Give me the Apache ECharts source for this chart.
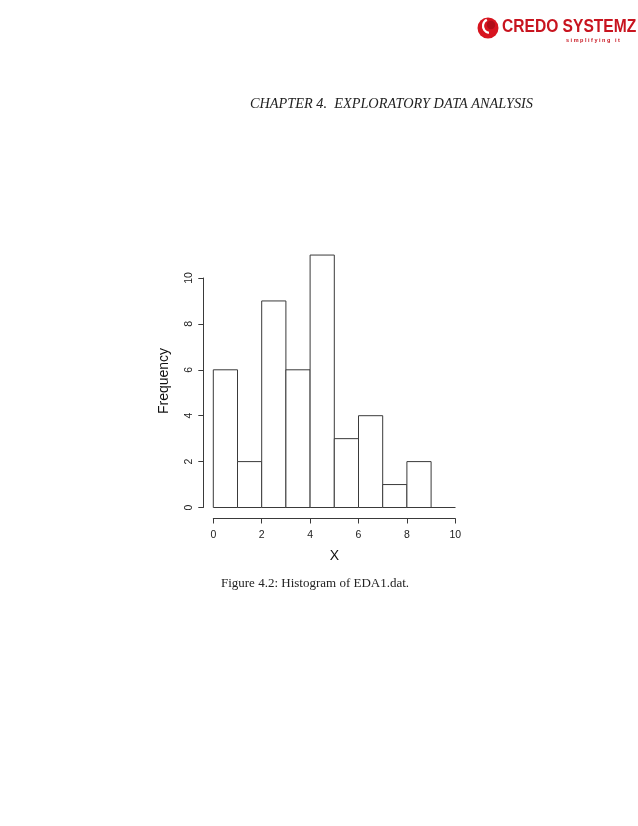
<!DOCTYPE html>
<html>
<head>
<meta charset="utf-8">
<script src="https://cdn.jsdelivr.net/npm/echarts@6/dist/echarts.min.js"></script>
<style>
html,body{margin:0;padding:0;background:#fff;}
#chart{width:638px;height:826px;}
</style>
</head>
<body>
<div id="chart"></div>
<script>
// Histogram data (bin edges and counts)
const binStarts = [0, 1, 2, 3, 4, 5, 6, 7, 8, 9];
const binEnds   = [1, 2, 3, 4, 5, 6, 7, 8, 9, 10];
const counts    = [6, 2, 9, 6, 11, 3, 4, 1, 2, 0];
const xLabelText = 'X';
const yLabelText = 'Frequency';
const headerText = 'CHAPTER 4.  EXPLORATORY DATA ANALYSIS';
const captionText = 'Figure 4.2: Histogram of EDA1.dat.';

const data = binStarts.map((s, i) => [s, binEnds[i], counts[i]]);

const chart = echarts.init(document.getElementById('chart'), null, {renderer: 'canvas'});
const lineColor = '#3a3a3a';
const sans = '"Liberation Sans", Arial, Helvetica, sans-serif';
const serif = '"Liberation Serif", "Times New Roman", serif';

chart.setOption({
  backgroundColor: '#ffffff',
  animation: false,
  grid: {left: 213.3, top: 278, width: 242, height: 229.5, containLabel: false},
  xAxis: {
    type: 'value', min: 0, max: 10, interval: 2, offset: 11,
    axisLine: {show: true, onZero: false, lineStyle: {color: lineColor, width: 1}},
    axisTick: {show: true, length: 5, lineStyle: {color: lineColor}},
    axisLabel: {margin: 11, fontFamily: sans, fontSize: 10.5, color: '#222'},
    splitLine: {show: false}
  },
  yAxis: {
    type: 'value', min: 0, max: 10, interval: 2, offset: 10,
    axisLine: {show: true, onZero: false, lineStyle: {color: lineColor, width: 1}},
    axisTick: {show: true, length: 5, lineStyle: {color: lineColor}},
    axisLabel: {margin: 9, rotate: 90, fontFamily: sans, fontSize: 10.5, color: '#222'},
    splitLine: {show: false}
  },
  series: [{
    type: 'custom',
    clip: false,
    data: data,
    encode: {x: [0, 1], y: 2},
    renderItem: function (params, api) {
      const p0 = api.coord([api.value(0), 0]);
      const p1 = api.coord([api.value(1), api.value(2)]);
      return {
        type: 'rect',
        shape: {x: p0[0], y: p1[1], width: p1[0] - p0[0], height: p0[1] - p1[1]},
        style: {fill: '#ffffff', stroke: lineColor, lineWidth: 1}
      };
    }
  }],
  graphic: [
    // Logo swirl
    {type: 'circle', shape: {cx: 488, cy: 28, r: 10.5}, style: {fill: '#d7141f'}},
    {type: 'arc', shape: {cx: 490, cy: 26, r: 7, startAngle: Math.PI * 0.55, endAngle: Math.PI * 1.35},
      style: {stroke: '#ffffff', lineWidth: 2.2, fill: null}},
    {type: 'circle', shape: {cx: 491, cy: 25, r: 4.2}, style: {fill: '#b00d18'}},
    {type: 'text', x: 502, y: 17, scaleX: 0.82, originX: 0,
      style: {text: 'CREDO SYSTEMZ', fontFamily: sans, fontWeight: 'bold', fontSize: 19, fill: '#c8141f'}},
    {type: 'text', left: 566, top: 37,
      style: {text: 's i m p l i f y i n g   i t', fontFamily: sans, fontWeight: 'bold', fontSize: 5.5, fill: '#c8141f'}},
    // Header
    {type: 'text', x: 250, y: 104,
      style: {text: headerText, fontFamily: serif, fontStyle: 'italic', fontSize: 14.3, fill: '#222', verticalAlign: 'middle'}},
    // Axis titles
    {type: 'text', x: 164, y: 381, rotation: Math.PI / 2,
      style: {text: yLabelText, fontFamily: sans, fontSize: 14, fill: '#111', align: 'center', verticalAlign: 'middle'}},
    {type: 'text', x: 334.5, y: 556,
      style: {text: xLabelText, fontFamily: sans, fontSize: 14, fill: '#111', align: 'center', verticalAlign: 'middle'}},
    // Caption
    {type: 'text', x: 315, y: 584,
      style: {text: captionText, fontFamily: serif, fontSize: 13, fill: '#222', align: 'center', verticalAlign: 'middle'}}
  ]
});
</script>
</body>
</html>
